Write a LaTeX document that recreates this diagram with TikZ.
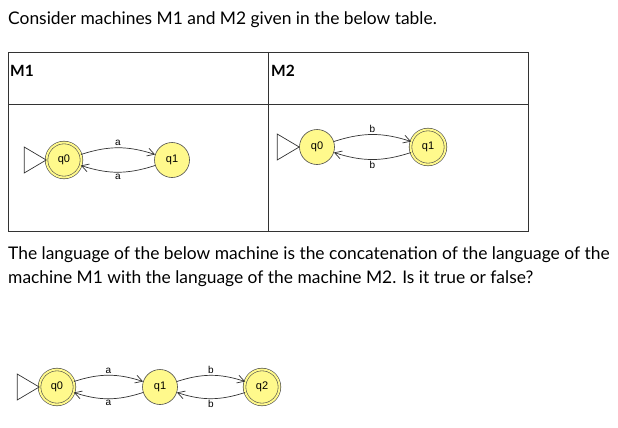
\documentclass[tikz,border=0pt]{standalone}
\usepackage{fontspec}
\setmainfont{Lato}
\newfontfamily\lab{Liberation Sans}
\usetikzlibrary{arrows.meta}
\begin{document}
\begin{tikzpicture}[x=1pt,y=-1pt,
  st/.style={circle,draw=black!70,fill=yellow!45,line width=0.6pt,minimum size=35pt,inner sep=0pt,font=\lab\fontsize{11}{11}\selectfont},
  acc/.style={st,double=yellow!45,double distance=2pt},
  tr/.style={draw=black!80,line width=0.7pt,-{Straight Barb[length=7pt,width=8pt]}},
  el/.style={font=\lab\fontsize{10}{10}\selectfont,inner sep=1.5pt},
  init/.style={draw=black!80,line width=0.7pt,fill=white},
  txt/.style={font=\fontsize{17.4}{20}\selectfont,anchor=west,inner sep=0pt}]
\useasboundingbox (0,0) rectangle (618,428);
\node[txt] (t1) at (8,20) {Consider machines M1 and M2 given in the below table.};
\draw[line width=0.9pt,black!80] (8,52) rectangle (528,231);
\draw[line width=0.9pt,black!80] (8,104) -- (528,104) (268,52) -- (268,231);
\node[txt,font=\bfseries\fontsize{15.5}{18}\selectfont] (m1) at (10,71) {M1};
\node[txt,font=\bfseries\fontsize{15.5}{18}\selectfont] (m2) at (271,71) {M2};
% M1
\node[acc] (a0) at (64,160) {q0};
\node[st] (a1) at (172,160) {q1};
\draw[init] (a0.west) -- ++(-22,-13) -- ++(0,26) -- cycle;
\draw[tr] (a0) to[bend left=18] node[el,above] {a} (a1);
\draw[tr] (a1) to[bend left=18] node[el,below] {a} (a0);
% M2
\node[st] (b0) at (317,147) {q0};
\node[acc] (b1) at (428,147) {q1};
\draw[init] (b0.west) -- ++(-22,-13) -- ++(0,26) -- cycle;
\draw[tr] (b0) to[bend left=18] node[el,above] {b} (b1);
\draw[tr] (b1) to[bend left=18] node[el,below] {b} (b0);
\node[txt] (p1) at (8,255) {The language of the below machine is the concatenation of the language of the};
\node[txt] (p2) at (8,279) {machine M1 with the language of the machine M2. Is it true or false?};
% bottom
\node[acc] (c0) at (57,387) {q0};
\node[st] (c1) at (160,387) {q1};
\node[acc] (c2) at (262,387) {q2};
\draw[init] (c0.west) -- ++(-22,-13) -- ++(0,26) -- cycle;
\draw[tr] (c0) to[bend left=18] node[el,above] {a} (c1);
\draw[tr] (c1) to[bend left=18] node[el,below] {a} (c0);
\draw[tr] (c1) to[bend left=18] node[el,above] {b} (c2);
\draw[tr] (c2) to[bend left=18] node[el,below] {b} (c1);
\end{tikzpicture}
\end{document}
